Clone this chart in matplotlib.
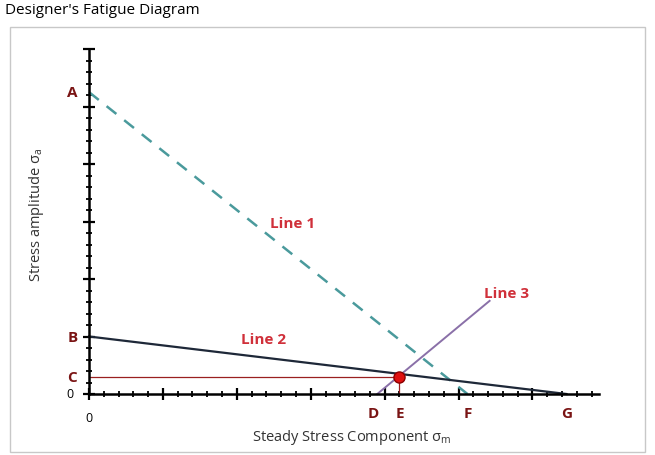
import matplotlib.pyplot as plt
from matplotlib.patches import Rectangle
from matplotlib.ticker import MultipleLocator

plt.rcParams['font.family'] = ['Open Sans', 'DejaVu Sans']
plt.rcParams['mathtext.default'] = 'regular'

# key points (x in major-tick units, y in major-tick units)
line1_x = [0, 5.12]
line1_y = [5.25, 0]
line2_x = [0, 6.46]
line2_y = [1.0, 0]
line3_x = [3.9, 5.42]
line3_y = [0, 1.62]
point_e = (4.2, 0.3)

x_letters = ['D', 'E', 'F', 'G']
x_letter_pos = [3.84, 4.2, 5.12, 6.46]
y_letters = ['A', 'B', 'C']
y_letter_pos = [5.25, 1.0, 0.3]

line_labels = ['Line 1', 'Line 2', 'Line 3']
line_label_pos = [(2.45, 2.98), (2.05, 0.95), (5.35, 1.75)]

fig = plt.figure(figsize=(6.55, 4.56), dpi=100)
W, H = 655, 456
fig.patches.append(Rectangle((10 / W, 3 / H), 635 / W, 425 / H, transform=fig.transFigure,
                             fill=False, edgecolor='#c8c8c8', linewidth=1))
fig.text(5 / W, 1 - 10 / H, "Designer's Fatigue Diagram", fontsize=11, va='center', ha='left')

ax = fig.add_axes([89 / W, (456 - 395) / H, 510 / W, 345 / H])
ax.set_xlim(0, 6.9)
ax.set_ylim(0, 6)
for s in ['top', 'right']:
    ax.spines[s].set_visible(False)
for s in ['left', 'bottom']:
    ax.spines[s].set_linewidth(1.8)
ax.xaxis.set_major_locator(MultipleLocator(1))
ax.xaxis.set_minor_locator(MultipleLocator(0.2))
ax.yaxis.set_major_locator(MultipleLocator(1))
ax.yaxis.set_minor_locator(MultipleLocator(0.2))
ax.tick_params(which='major', direction='inout', length=9, width=1.6)
ax.tick_params(which='minor', direction='inout', length=5, width=1.3)
ax.set_xticklabels([])
ax.set_yticklabels([])

ax.plot(line1_x, line1_y, color='#4a9a9c', linestyle=(0, (5, 4)), linewidth=1.8, clip_on=False)
ax.plot(line2_x, line2_y, color='#1e2838', linewidth=1.6, clip_on=False)
ax.plot(line3_x, line3_y, color='#8a70a8', linewidth=1.4, clip_on=False)
ax.plot([0, point_e[0]], [point_e[1], point_e[1]], color='#9a2020', linewidth=0.9)
ax.plot([point_e[0], point_e[0]], [0, point_e[1]], color='#9a2020', linewidth=0.9)
ax.plot(*point_e, 'o', color='#e01010', markeredgecolor='#8a0000', markersize=8, zorder=5)

for lab, xv in zip(x_letters, x_letter_pos):
    ax.annotate(lab, (xv, 0), xytext=(0, -14), textcoords='offset points', ha='center', va='center',
                color='#7a1414', fontweight='bold', fontsize=11, annotation_clip=False)
for lab, yv in zip(y_letters, y_letter_pos):
    ax.annotate(lab, (0, yv), xytext=(-12, 0), textcoords='offset points', ha='center', va='center',
                color='#7a1414', fontweight='bold', fontsize=11, annotation_clip=False)
ax.annotate('0', (0, 0), xytext=(-14, 0), textcoords='offset points', ha='center', va='center',
            fontsize=9, annotation_clip=False)
ax.annotate('0', (0, 0), xytext=(0, -17), textcoords='offset points', ha='center', va='center',
            fontsize=9, annotation_clip=False)

for lab, (xv, yv) in zip(line_labels, line_label_pos):
    ax.text(xv, yv, lab, color='#d0303a', fontweight='bold', fontsize=11, ha='left', va='center')

fig.text(352 / W, 1 - 438 / H, r'Steady Stress Component $\sigma_m$', fontsize=10.5, ha='center', va='center',
         color='#333333')
fig.text(36 / W, 1 - 215 / H, r'Stress amplitude $\sigma_a$', fontsize=10.5, ha='center', va='center',
         rotation=90, color='#333333')

fig.savefig('out.png', dpi=100)
